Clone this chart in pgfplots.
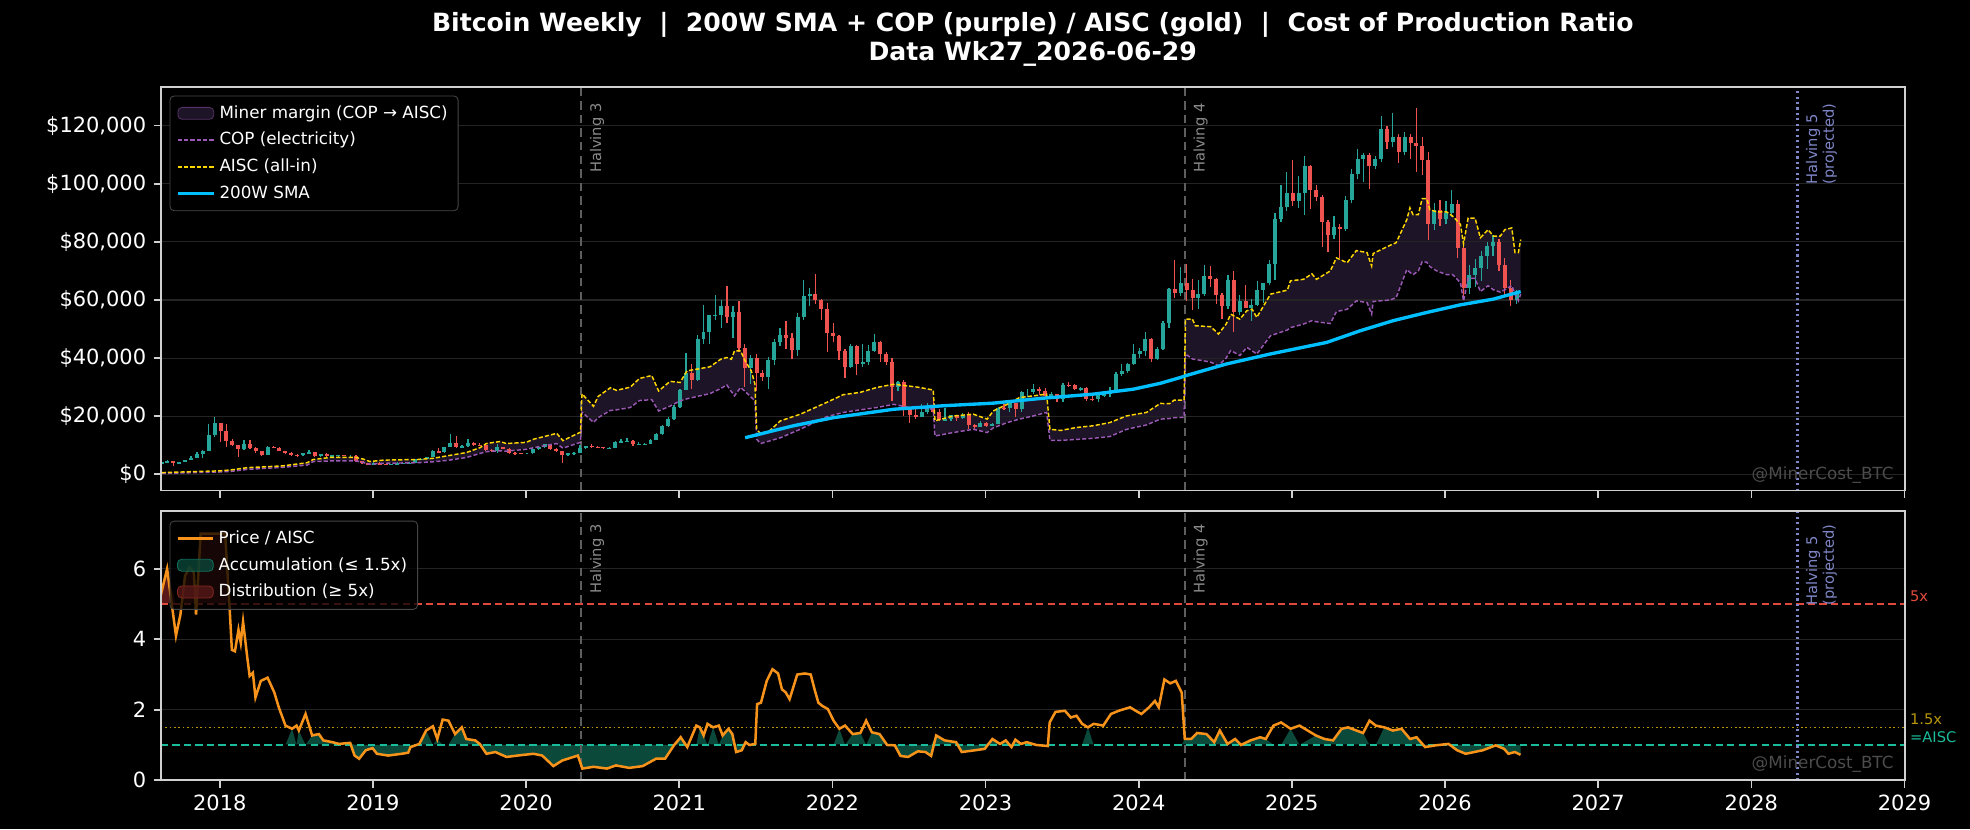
\documentclass[border=0pt]{standalone}
\usepackage{fontspec}
\setmainfont{DejaVu Sans}
\usepackage{pgfplots}
\pgfplotsset{compat=1.18}
\usepackage{pgfplotstable}

\definecolor{upc}{HTML}{26A69A}
\definecolor{dnc}{HTML}{EF5350}
\definecolor{aiscc}{HTML}{FFD700}
\definecolor{copc}{HTML}{9B59B6}
\definecolor{marginc}{HTML}{1E1427}
\definecolor{smac}{HTML}{00BFFF}
\definecolor{ratioc}{HTML}{F7931A}
\definecolor{accf}{HTML}{0B4A3B}
\definecolor{acce}{HTML}{1ABC9C}
\definecolor{distf}{HTML}{5A1818}
\definecolor{diste}{HTML}{C0392B}
\definecolor{fivel}{HTML}{E04A3C}
\definecolor{onefive}{HTML}{B8960B}
\definecolor{halv}{HTML}{5E5E5E}
\definecolor{halvt}{HTML}{8A8A8A}
\definecolor{hfive}{HTML}{8087C8}
\definecolor{gridc}{HTML}{242424}
\definecolor{spine}{HTML}{D0D0D0}

\pgfplotstableread{
x o h l c
2017.620 3.9 4.5 3.8 4.1
2017.658 4.1 4.9 4.0 4.6
2017.697 4.6 4.7 3.0 3.8
2017.735 3.8 4.4 3.6 4.2
2017.774 4.2 4.9 4.1 4.8
2017.812 4.8 6.2 4.8 5.7
2017.851 5.7 7.6 5.5 7.1
2017.889 7.1 8.3 5.6 8.2
2017.928 8.2 17.2 8.1 13.5
2017.966 13.5 19.7 13.0 17.5
2018.005 17.5 17.8 11.0 15.0
2018.043 15.0 17.2 9.4 11.3
2018.082 11.3 12.2 9.9 10.0
2018.120 10.0 10.1 6.0 8.6
2018.158 8.6 11.8 8.3 10.4
2018.197 10.4 11.7 8.6 9.1
2018.235 9.1 9.3 7.3 7.9
2018.274 7.9 8.1 6.4 6.8
2018.312 6.8 9.7 6.7 9.3
2018.351 9.3 9.9 8.9 9.2
2018.389 9.2 9.3 7.9 8.0
2018.428 8.0 8.0 7.0 7.5
2018.466 7.5 7.8 6.3 6.7
2018.505 6.7 6.9 5.8 6.6
2018.543 6.6 7.5 6.4 7.3
2018.582 7.3 8.5 7.2 7.7
2018.620 7.7 7.8 5.9 6.2
2018.658 6.2 7.1 6.0 7.0
2018.697 7.0 7.4 6.1 6.3
2018.735 6.3 6.8 6.2 6.5
2018.774 6.5 6.7 6.1 6.6
2018.812 6.6 6.7 6.3 6.4
2018.851 6.4 6.6 6.3 6.4
2018.889 6.4 6.5 4.2 4.6
2018.928 4.6 4.7 3.5 3.9
2018.966 3.9 4.0 3.2 3.5
2019.005 3.5 4.1 3.4 3.8
2019.043 3.8 4.1 3.5 3.6
2019.082 3.6 3.7 3.3 3.4
2019.120 3.4 3.7 3.4 3.6
2019.158 3.6 4.2 3.6 3.8
2019.197 3.8 3.95 3.7 3.9
2019.235 3.9 4.1 3.9 4.0
2019.274 4.0 5.4 4.0 5.2
2019.312 5.2 5.6 4.9 5.4
2019.351 5.4 5.9 5.2 5.8
2019.389 5.8 8.3 5.8 7.9
2019.428 7.9 9.0 7.5 7.7
2019.466 7.7 9.4 7.5 9.3
2019.505 9.3 13.8 9.3 10.8
2019.543 10.8 13.2 9.1 9.4
2019.582 9.4 10.2 9.1 9.6
2019.620 9.6 12.3 9.4 10.8
2019.658 10.8 11.0 9.6 10.2
2019.697 10.2 10.9 9.8 10.1
2019.735 10.1 10.3 7.9 8.5
2019.774 8.5 8.6 7.7 8.2
2019.812 8.2 10.3 7.4 9.3
2019.851 9.3 9.4 8.7 8.8
2019.889 8.8 8.9 7.0 7.4
2019.928 7.4 7.8 6.5 7.3
2019.966 7.3 7.5 6.9 7.2
2020.005 7.2 7.5 6.9 7.2
2020.043 7.2 9.0 7.0 8.8
2020.082 8.8 9.6 8.3 9.4
2020.120 9.4 10.5 9.2 10.3
2020.158 10.3 10.5 8.5 8.7
2020.197 8.7 9.2 7.8 7.9
2020.235 7.9 8.0 3.8 6.7
2020.274 6.7 7.4 6.2 7.2
2020.312 7.2 7.8 6.8 7.5
2020.351 7.5 10.0 7.4 8.9
2020.389 8.9 9.9 8.6 9.7
2020.428 9.7 10.4 9.2 9.5
2020.466 9.5 9.9 9.2 9.4
2020.505 9.4 9.5 8.9 9.1
2020.543 9.1 9.4 9.0 9.2
2020.582 9.2 11.4 9.2 11.0
2020.620 11.0 12.1 10.7 11.4
2020.658 11.4 12.4 11.2 11.5
2020.697 11.5 11.7 9.9 10.3
2020.735 10.3 11.1 10.2 10.5
2020.774 10.5 10.8 10.4 10.6
2020.812 10.6 12.0 10.5 11.9
2020.851 11.9 14.1 11.9 13.8
2020.889 13.8 17.0 13.7 16.7
2020.928 16.7 19.9 16.2 19.2
2020.966 19.2 23.9 18.8 23.2
2021.005 23.2 29.3 22.8 29.0
2021.043 29.0 41.9 29.0 35.0
2021.082 35.0 37.8 29.4 32.3
2021.120 32.3 48.0 32.0 46.5
2021.158 46.5 58.3 45.0 49.0
2021.197 49.0 55.0 45.0 54.8
2021.235 54.8 61.7 53.0 55.0
2021.274 55.0 60.0 50.5 58.0
2021.312 58.0 64.8 52.0 54.0
2021.351 54.0 58.0 47.0 56.0
2021.389 56.0 59.5 42.0 43.5
2021.428 43.5 45.0 30.0 36.7
2021.466 36.7 41.0 31.0 40.0
2021.505 40.0 41.3 28.8 35.0
2021.543 35.0 36.0 32.0 33.5
2021.582 33.5 40.5 29.3 39.5
2021.620 39.5 46.5 37.5 45.5
2021.658 45.5 50.5 44.0 48.0
2021.697 48.0 52.9 43.0 46.8
2021.735 46.8 48.8 39.6 42.8
2021.774 42.8 55.5 40.8 54.0
2021.812 54.0 67.0 53.0 61.5
2021.851 61.5 64.0 58.0 62.0
2021.889 62.0 69.0 58.5 60.0
2021.928 60.0 60.5 53.0 57.0
2021.966 57.0 59.0 42.0 48.5
2022.005 48.5 52.0 45.5 47.5
2022.043 47.5 47.9 39.5 42.5
2022.082 42.5 43.0 33.0 37.0
2022.120 37.0 45.0 36.5 44.0
2022.158 44.0 44.5 34.3 38.0
2022.197 38.0 45.0 37.0 38.7
2022.235 38.7 44.5 37.5 42.4
2022.274 42.4 48.2 42.0 45.5
2022.312 45.5 46.0 38.5 41.5
2022.351 41.5 42.0 37.7 38.5
2022.389 38.5 40.0 25.4 30.0
2022.428 30.0 32.0 28.7 31.8
2022.466 31.8 32.4 20.1 22.5
2022.505 22.5 23.2 17.6 20.3
2022.543 20.3 22.5 18.9 19.8
2022.582 19.8 24.2 19.7 21.3
2022.620 21.3 24.5 20.9 23.2
2022.658 23.2 25.2 20.9 21.5
2022.697 21.5 22.4 18.5 18.8
2022.735 18.8 22.8 18.2 18.9
2022.774 18.9 20.5 18.2 20.3
2022.812 20.3 20.5 18.2 19.3
2022.851 19.3 21.0 19.0 20.5
2022.889 20.5 21.4 15.6 16.9
2022.928 16.9 17.2 15.5 16.4
2022.966 16.4 18.4 16.3 17.8
2023.005 17.8 18.0 16.4 16.7
2023.043 16.7 17.5 16.5 17.4
2023.082 17.4 23.3 17.3 22.9
2023.120 22.9 24.2 22.2 22.8
2023.158 22.8 25.2 21.4 24.5
2023.197 24.5 24.7 19.6 22.4
2023.235 22.4 28.6 21.5 28.2
2023.274 28.2 29.2 26.5 28.2
2023.312 28.2 31.0 27.8 29.4
2023.351 29.4 30.0 27.2 28.6
2023.389 28.6 29.8 26.0 27.0
2023.428 27.0 28.4 26.0 27.7
2023.466 27.7 27.8 24.8 25.9
2023.505 25.9 31.4 25.0 30.7
2023.543 30.7 31.8 29.9 30.6
2023.582 30.6 31.1 29.0 29.2
2023.620 29.2 30.2 28.8 29.8
2023.658 29.8 30.0 25.2 26.0
2023.697 26.0 28.1 25.4 25.8
2023.735 25.8 27.4 24.9 27.2
2023.774 27.2 28.6 26.6 27.6
2023.812 27.6 30.0 26.6 28.5
2023.851 28.5 35.2 28.3 34.6
2023.889 34.6 37.9 34.0 35.5
2023.928 35.5 38.4 35.0 37.8
2023.966 37.8 44.7 37.6 41.5
2024.005 41.5 43.4 40.2 42.5
2024.043 42.5 48.9 40.8 46.5
2024.082 46.5 47.0 38.5 39.8
2024.120 39.8 43.8 39.5 43.0
2024.158 43.0 52.8 42.8 52.0
2024.197 52.0 64.0 50.5 63.8
2024.235 63.8 73.8 60.8 62.5
2024.274 62.5 71.5 61.5 66.0
2024.312 66.0 72.5 59.6 63.5
2024.351 63.5 67.2 56.5 60.6
2024.389 60.6 67.0 56.8 62.0
2024.428 62.0 71.9 61.5 68.4
2024.466 68.4 71.8 64.5 67.3
2024.505 67.3 67.5 58.5 61.8
2024.543 61.8 62.5 53.5 57.9
2024.582 57.9 68.5 57.0 66.8
2024.620 66.8 70.0 49.1 56.0
2024.658 56.0 61.8 55.0 59.5
2024.697 59.5 65.0 57.2 57.4
2024.735 57.4 60.5 52.6 58.2
2024.774 58.2 66.5 58.0 63.3
2024.812 63.3 66.0 58.9 66.0
2024.851 66.0 73.6 65.0 72.3
2024.889 72.3 89.9 66.8 88.0
2024.928 88.0 99.6 87.0 92.0
2024.966 92.0 104.0 90.5 96.7
2025.005 96.7 108.3 92.2 94.0
2025.043 94.0 102.7 91.5 96.9
2025.082 96.9 109.4 89.3 106.0
2025.120 106.0 106.5 91.2 98.0
2025.158 98.0 99.5 94.0 95.5
2025.197 95.5 96.0 78.2 87.0
2025.235 87.0 87.5 76.6 82.5
2025.274 82.5 88.8 81.0 85.0
2025.312 85.0 86.1 74.5 84.5
2025.351 84.5 95.7 83.9 94.5
2025.389 94.5 105.0 93.3 103.5
2025.428 103.5 111.9 101.5 108.5
2025.466 108.5 110.7 100.5 110.0
2025.505 110.0 110.5 98.2 106.0
2025.543 106.0 109.7 105.0 108.5
2025.582 108.5 123.2 107.5 119.0
2025.620 119.0 120.0 112.0 114.5
2025.658 114.5 124.5 112.5 116.0
2025.697 116.0 117.0 107.3 111.0
2025.735 111.0 117.9 110.0 116.0
2025.774 116.0 117.0 108.6 114.0
2025.812 114.0 126.2 104.0 113.0
2025.851 113.0 116.0 103.0 108.0
2025.889 108.0 111.0 80.5 86.0
2025.928 86.0 93.5 84.0 91.0
2025.966 91.0 94.5 85.5 88.0
2026.005 88.0 94.0 86.0 90.0
2026.043 90.0 98.0 88.5 93.0
2026.082 93.0 94.5 74.5 78.0
2026.120 78.0 79.0 60.0 64.0
2026.158 64.0 72.0 62.0 68.5
2026.197 68.5 74.0 64.5 71.0
2026.235 71.0 77.0 66.5 75.0
2026.274 75.0 80.0 70.5 78.5
2026.312 78.5 82.5 75.0 80.0
2026.351 80.0 81.0 70.0 72.0
2026.389 72.0 74.5 61.5 64.0
2026.428 64.0 67.0 58.0 60.0
2026.466 60.0 63.5 58.5 62.5
}\candles

\pgfplotstableread{
x a c
2017.620 0.6 0.3
2018.000 1.2 0.8
2018.070 1.5 1.0
2018.180 2.3 1.7
2018.410 2.9 2.4
2018.570 4.0 3.2
2018.610 5.1 4.4
2018.720 5.8 4.6
2018.890 5.8 4.6
2018.940 5.2 4.0
2018.980 4.4 3.5
2019.070 4.9 3.8
2019.290 5.1 4.0
2019.390 5.5 4.3
2019.500 6.5 4.9
2019.610 7.5 5.8
2019.700 9.2 7.2
2019.740 10.6 7.8
2019.830 11.3 8.1
2019.870 10.6 8.0
2020.000 11.0 8.6
2020.050 12.1 9.2
2020.200 14.1 10.6
2020.240 11.6 9.0
2020.330 13.9 10.6
2020.355 14.5 11.0
2020.365 27.7 21.4
2020.440 23.4 17.9
2020.470 26.8 19.5
2020.550 29.8 22.0
2020.590 28.9 22.2
2020.680 30.0 23.0
2020.740 33.0 25.4
2020.820 34.0 25.7
2020.865 28.7 21.8
2020.940 32.0 23.5
2021.005 31.6 25.3
2021.050 35.6 26.0
2021.200 37.0 27.8
2021.270 39.6 29.5
2021.310 40.2 30.8
2021.340 39.6 28.5
2021.360 42.5 27.0
2021.400 42.5 29.9
2021.430 39.0 28.5
2021.470 35.6 26.5
2021.494 31.0 25.3
2021.505 15.5 12.1
2021.530 14.0 10.6
2021.590 15.0 11.5
2021.660 18.4 12.6
2021.790 20.7 15.5
2021.960 24.7 19.8
2022.070 27.4 21.3
2022.180 28.2 22.2
2022.290 29.9 23.0
2022.400 31.0 24.1
2022.480 30.5 23.2
2022.570 29.9 22.8
2022.658 29.0 22.4
2022.669 18.4 13.2
2022.790 20.1 14.4
2022.920 20.7 15.5
2023.010 19.0 14.4
2023.050 21.8 16.0
2023.140 24.1 17.8
2023.220 26.4 19.0
2023.310 27.0 20.1
2023.398 27.6 21.3
2023.420 15.5 11.7
2023.490 15.1 11.7
2023.590 16.1 12.0
2023.700 16.7 12.4
2023.810 17.8 13.0
2023.920 20.1 15.5
2024.050 21.3 17.0
2024.140 24.4 19.0
2024.200 24.3 19.2
2024.230 25.5 19.5
2024.295 25.5 19.6
2024.305 53.4 41.4
2024.350 53.4 39.7
2024.370 51.1 39.5
2024.410 51.0 39.2
2024.470 50.8 38.6
2024.520 48.3 37.4
2024.570 51.7 40.0
2024.600 55.1 42.6
2024.660 53.4 40.9
2024.705 56.3 43.7
2024.740 56.8 42.5
2024.770 54.0 41.4
2024.860 62.0 47.7
2024.970 63.4 49.7
2024.990 66.6 50.5
2025.075 67.1 51.7
2025.130 69.0 52.9
2025.160 67.1 52.5
2025.250 70.0 51.9
2025.290 74.5 56.0
2025.360 72.8 56.8
2025.420 77.0 59.7
2025.490 76.3 59.1
2025.520 71.7 55.1
2025.530 76.0 59.5
2025.640 78.8 60.0
2025.680 79.7 60.8
2025.750 87.7 70.5
2025.770 91.7 69.5
2025.790 89.4 68.7
2025.825 89.4 70.0
2025.850 94.9 73.2
2025.880 94.9 73.0
2025.900 91.1 71.5
2025.945 90.3 70.0
2026.010 90.3 68.7
2026.050 88.8 68.7
2026.100 86.0 65.9
2026.120 79.3 59.7
2026.150 88.2 67.4
2026.195 88.2 67.4
2026.230 81.4 62.9
2026.280 84.2 64.9
2026.315 82.0 63.5
2026.360 82.0 62.7
2026.390 84.2 63.5
2026.435 84.8 65.0
2026.456 76.3 62.0
2026.478 76.3 59.7
2026.493 80.8 62.0
}\cost

\pgfplotstableread{
x s
2021.430 12.6
2021.744 16.7
2022.006 19.5
2022.400 22.4
2022.724 23.6
2023.050 24.5
2023.376 26.2
2023.703 27.6
2023.964 29.3
2024.139 31.3
2024.270 33.3
2024.310 34.0
2024.574 38.0
2024.857 41.4
2025.227 45.4
2025.445 49.4
2025.662 52.9
2025.880 55.7
2026.097 58.3
2026.315 60.3
2026.493 62.9
}\smatab

\pgfplotstableread{
x r
2017.612 5.2
2017.656 6.0
2017.714 4.1
2017.743 4.7
2017.773 5.8
2017.802 6.05
2017.831 5.9
2017.845 4.7
2017.875 7.0
2018.035 7.0
2018.064 4.9
2018.079 3.7
2018.099 3.66
2018.122 4.27
2018.137 3.9
2018.152 4.5
2018.181 3.43
2018.195 2.96
2018.216 3.05
2018.233 2.35
2018.268 2.82
2018.312 2.91
2018.356 2.49
2018.385 2.07
2018.429 1.55
2018.472 1.46
2018.501 1.55
2018.516 1.41
2018.560 1.88
2018.603 1.27
2018.647 1.31
2018.676 1.13
2018.735 1.08
2018.778 1.03
2018.851 1.06
2018.880 0.70
2018.910 0.61
2018.953 0.85
2018.997 0.91
2019.026 0.75
2019.099 0.70
2019.187 0.75
2019.230 0.78
2019.245 0.94
2019.303 1.03
2019.347 1.41
2019.391 1.53
2019.420 1.17
2019.455 1.72
2019.493 1.69
2019.536 1.31
2019.580 1.50
2019.609 1.17
2019.668 1.13
2019.697 1.03
2019.741 0.75
2019.799 0.80
2019.872 0.66
2019.945 0.70
2020.047 0.75
2020.105 0.70
2020.178 0.40
2020.236 0.56
2020.309 0.66
2020.338 0.70
2020.367 0.33
2020.440 0.38
2020.528 0.33
2020.586 0.42
2020.673 0.35
2020.761 0.40
2020.848 0.61
2020.907 0.61
2020.965 0.99
2021.009 1.22
2021.052 0.94
2021.111 1.55
2021.134 1.50
2021.159 1.27
2021.184 1.60
2021.221 1.50
2021.258 1.55
2021.283 1.27
2021.321 1.46
2021.346 1.31
2021.371 0.80
2021.408 0.85
2021.433 1.08
2021.458 1.00
2021.496 1.03
2021.508 2.16
2021.533 2.20
2021.571 2.82
2021.608 3.15
2021.645 3.03
2021.670 2.58
2021.695 2.49
2021.720 2.30
2021.770 3.00
2021.820 3.03
2021.858 3.00
2021.883 2.58
2021.908 2.20
2021.933 2.11
2021.970 2.02
2022.007 1.69
2022.045 1.46
2022.082 1.55
2022.132 1.31
2022.182 1.34
2022.220 1.69
2022.257 1.36
2022.307 1.31
2022.357 1.00
2022.407 0.99
2022.444 0.69
2022.494 0.66
2022.557 0.82
2022.607 0.80
2022.644 0.69
2022.677 1.27
2022.732 1.13
2022.807 1.08
2022.844 0.80
2022.931 0.85
2022.994 0.89
2023.044 1.17
2023.094 1.03
2023.131 1.13
2023.169 0.94
2023.194 1.15
2023.231 1.03
2023.268 1.08
2023.331 1.00
2023.406 0.97
2023.418 1.64
2023.456 1.94
2023.518 1.97
2023.556 1.78
2023.593 1.83
2023.630 1.60
2023.668 1.50
2023.705 1.60
2023.768 1.55
2023.818 1.88
2023.868 1.97
2023.905 2.02
2023.943 2.07
2023.980 1.97
2024.017 1.88
2024.067 2.07
2024.105 2.25
2024.130 2.07
2024.167 2.86
2024.205 2.75
2024.242 2.82
2024.280 2.49
2024.300 1.17
2024.342 1.17
2024.380 1.34
2024.442 1.31
2024.492 1.08
2024.529 1.41
2024.579 1.03
2024.629 1.17
2024.667 1.00
2024.729 1.13
2024.792 1.22
2024.829 1.17
2024.879 1.55
2024.929 1.64
2024.991 1.46
2025.049 1.55
2025.156 1.27
2025.212 1.17
2025.268 1.13
2025.324 1.46
2025.366 1.50
2025.464 1.34
2025.506 1.69
2025.547 1.55
2025.603 1.50
2025.659 1.41
2025.715 1.46
2025.771 1.17
2025.813 1.22
2025.869 0.94
2025.939 0.99
2026.022 1.03
2026.078 0.85
2026.134 0.75
2026.190 0.80
2026.246 0.85
2026.330 0.99
2026.385 0.89
2026.413 0.75
2026.455 0.80
2026.492 0.72
}\ratiotab

\pgfplotsset{
  base/.style={
    scale only axis, width=832.8pt,
    xmin=2017.615, xmax=2029,
    axis on top,
    axis line style={spine, line width=0.8pt},
    tick align=outside, major tick length=3.5pt, minor tick length=2pt,
    every tick/.style={spine, line width=0.8pt},
    tick pos=left,
    xtick={2018,2019,...,2029}, minor x tick num=3,
    tick label style={text=white, font=\fontsize{10}{12}\selectfont},
    label style={text=white, font=\fontsize{10}{12}\selectfont},
    legend cell align=left,
  },
  wickup/.style={draw=none, forget plot, error bars/.cd, y dir=both, y explicit, error mark=none,
    error bar style={draw=upc, line width=0.6pt}},
  wickdn/.style={draw=none, forget plot, error bars/.cd, y dir=both, y explicit, error mark=none,
    error bar style={draw=dnc, line width=0.6pt}},
  bodyup/.style={draw=none, forget plot, error bars/.cd, y dir=both, y explicit, error mark=none,
    error bar style={draw=upc, line width=1.9pt}},
  bodydn/.style={draw=none, forget plot, error bars/.cd, y dir=both, y explicit, error mark=none,
    error bar style={draw=dnc, line width=1.9pt}},
  gridl/.style={gridc, line width=0.55pt, forget plot},
  blackfill/.style={fill=black, draw=black, line width=0.6pt, forget plot},
}

\begin{document}
\begin{tikzpicture}
\path[fill=black, use as bounding box] (0,0) rectangle (940.8pt,396pt);

% ---------- top panel ----------
\begin{axis}[base,
  at={(76.8pt,161.7pt)}, anchor=south west, height=192.9pt,
  ymin=-5.6, ymax=133.4,
  ytick={0,20,40,60,80,100,120},
  yticklabels={{\$0},{\$20,000},{\$40,000},{\$60,000},{\$80,000},{\$100,000},{\$120,000}},
  xticklabels={},
  ylabel={BTC Price (USD)},
  every axis y label/.style={at={(axis description cs:-0.080,0.5)}, rotate=90, anchor=center},
  legend style={at={(0.005,0.978)}, anchor=north west, fill=black, draw=white!28!black,
    text=white, font=\fontsize{8}{9.5}\selectfont, rounded corners=2pt, row sep=1.2pt,
    inner xsep=3pt, inner ysep=2.5pt},
]
% miner margin: painter's fill (AISC area, then COP area in black)
\addplot[fill=marginc, draw=none, forget plot] table[x=x, y=a] {\cost} \closedcycle;
\addplot[blackfill] table[x=x, y=c] {\cost} \closedcycle;
% grid lines
\addplot[gridl] coordinates {(2017.615,0) (2029,0)};
\addplot[gridl] coordinates {(2017.615,20) (2029,20)};
\addplot[gridl] coordinates {(2017.615,40) (2029,40)};
\addplot[gridl] coordinates {(2017.615,60) (2029,60)};
\addplot[gridl] coordinates {(2017.615,80) (2029,80)};
\addplot[gridl] coordinates {(2017.615,100) (2029,100)};
\addplot[gridl] coordinates {(2017.615,120) (2029,120)};

\addplot[halv, line width=0.8pt, dash pattern=on 4pt off 2.5pt, forget plot] coordinates {(2020.36,-5.6) (2020.36,133.4)};
\addplot[halv, line width=0.8pt, dash pattern=on 4pt off 2.5pt, forget plot] coordinates {(2024.30,-5.6) (2024.30,133.4)};
\addplot[hfive, line width=1.2pt, dash pattern=on 1pt off 1.6pt, forget plot] coordinates {(2028.30,-5.6) (2028.30,133.4)};

\addplot[wickup] table[x=x, y expr={(\thisrow{h}+\thisrow{l})/2}, y error expr={\thisrow{c}>=\thisrow{o} ? (\thisrow{h}-\thisrow{l})/2 : 0}] {\candles};
\addplot[wickdn] table[x=x, y expr={(\thisrow{h}+\thisrow{l})/2}, y error expr={\thisrow{c}<\thisrow{o} ? (\thisrow{h}-\thisrow{l})/2 : 0}] {\candles};
\addplot[bodyup] table[x=x, y expr={(\thisrow{o}+\thisrow{c})/2}, y error expr={\thisrow{c}>=\thisrow{o} ? (\thisrow{c}-\thisrow{o})/2 : 0}] {\candles};
\addplot[bodydn] table[x=x, y expr={(\thisrow{o}+\thisrow{c})/2}, y error expr={\thisrow{c}<\thisrow{o} ? (\thisrow{o}-\thisrow{c})/2 : 0}] {\candles};

\addplot[copc, line width=0.7pt, dash pattern=on 2pt off 1pt, forget plot] table[x=x, y=c] {\cost};
\addplot[aiscc, line width=0.7pt, dash pattern=on 2pt off 1pt, forget plot] table[x=x, y=a] {\cost};
\addplot[smac, line width=1.6pt, forget plot] table[x=x, y=s] {\smatab};

\addlegendimage{area legend, fill=marginc, draw=copc!55!black}
\addlegendentry{Miner margin (COP → AISC)}
\addlegendimage{copc, line width=0.7pt, dash pattern=on 2pt off 1pt}
\addlegendentry{COP (electricity)}
\addlegendimage{aiscc, line width=0.7pt, dash pattern=on 2pt off 1pt}
\addlegendentry{AISC (all-in)}
\addlegendimage{smac, line width=1.6pt}
\addlegendentry{200W SMA}

\node[rotate=90, anchor=north east, inner sep=1pt, text=halvt, font=\fontsize{7}{8}\selectfont] at (axis cs:2020.40,128.5) {Halving 3};
\node[rotate=90, anchor=north east, inner sep=1pt, text=halvt, font=\fontsize{7}{8}\selectfont] at (axis cs:2024.34,128.5) {Halving 4};
\node[rotate=90, anchor=north east, inner sep=1pt, align=left, text=hfive, font=\fontsize{7}{8}\selectfont] at (axis cs:2028.34,128.5) {Halving 5\\(projected)};
\node[anchor=south east, inner sep=1pt, text=white!30!black, font=\fontsize{8}{9}\selectfont] at (rel axis cs:0.995,0.012) {@MinerCost\_BTC};
\end{axis}

% ---------- bottom panel ----------
\begin{axis}[base,
  at={(76.8pt,23.4pt)}, anchor=south west, height=128.7pt,
  ymin=0, ymax=7.65,
  ytick={0,2,4,6}, yticklabels={0,2,4,6},
  xticklabels={2018,2019,2020,2021,2022,2023,2024,2025,2026,2027,2028,2029},
  ylabel={Price / AISC (x)},
  every axis y label/.style={at={(axis description cs:-0.031,0.5)}, rotate=90, anchor=center},
  legend style={at={(0.005,0.963)}, anchor=north west, fill=black, fill opacity=0.75, text opacity=1, draw=white!28!black,
    text=white, font=\fontsize{8}{9.5}\selectfont, rounded corners=2pt, row sep=1.2pt,
    inner xsep=3pt, inner ysep=2.5pt},
]
% distribution: area under max(r,5) minus area under 5
\addplot[fill=distf, draw=none, forget plot] table[x=x, y expr={\thisrow{r}>=5 ? \thisrow{r} : 5}] {\ratiotab} \closedcycle;
\addplot[blackfill] coordinates {(2017.612,5) (2026.492,5)} \closedcycle;
% accumulation: area under max(m,1) minus area under min(m,1), m = r if r<=1.5 else 1
\addplot[fill=accf, draw=none, forget plot] table[x=x, y expr={\thisrow{r}<=1.5 ? max(\thisrow{r},1) : 1}] {\ratiotab} \closedcycle;
\addplot[blackfill] table[x=x, y expr={\thisrow{r}<=1.5 ? min(\thisrow{r},1) : 1}] {\ratiotab} \closedcycle;

\addplot[gridl] coordinates {(2017.615,2) (2029,2)};
\addplot[gridl] coordinates {(2017.615,4) (2029,4)};
\addplot[gridl] coordinates {(2017.615,6) (2029,6)};

\addplot[fivel, line width=0.9pt, dash pattern=on 3.5pt off 2pt, forget plot] coordinates {(2017.615,5) (2029,5)};
\addplot[onefive, line width=0.7pt, dash pattern=on 0.8pt off 1.3pt, forget plot] coordinates {(2017.615,1.5) (2029,1.5)};
\addplot[acce, line width=0.9pt, dash pattern=on 3.5pt off 2pt, forget plot] coordinates {(2017.615,1) (2029,1)};

\addplot[halv, line width=0.8pt, dash pattern=on 4pt off 2.5pt, forget plot] coordinates {(2020.36,0) (2020.36,7.65)};
\addplot[halv, line width=0.8pt, dash pattern=on 4pt off 2.5pt, forget plot] coordinates {(2024.30,0) (2024.30,7.65)};
\addplot[hfive, line width=1.2pt, dash pattern=on 1pt off 1.6pt, forget plot] coordinates {(2028.30,0) (2028.30,7.65)};

\addplot[ratioc, line width=1.2pt, forget plot] table[x=x, y=r] {\ratiotab};

\addlegendimage{ratioc, line width=1.2pt}
\addlegendentry{Price / AISC}
\addlegendimage{area legend, fill=accf, draw=acce!60!black}
\addlegendentry{Accumulation (≤ 1.5x)}
\addlegendimage{area legend, fill=distf, draw=diste!70!black}
\addlegendentry{Distribution (≥ 5x)}

\node[rotate=90, anchor=north east, inner sep=1pt, text=halvt, font=\fontsize{7}{8}\selectfont] at (axis cs:2020.40,7.33) {Halving 3};
\node[rotate=90, anchor=north east, inner sep=1pt, text=halvt, font=\fontsize{7}{8}\selectfont] at (axis cs:2024.34,7.33) {Halving 4};
\node[rotate=90, anchor=north east, inner sep=1pt, align=left, text=hfive, font=\fontsize{7}{8}\selectfont] at (axis cs:2028.34,7.33) {Halving 5\\(projected)};
\node[anchor=south east, inner sep=1pt, text=white!30!black, font=\fontsize{8}{9}\selectfont] at (rel axis cs:0.995,0.018) {@MinerCost\_BTC};

\coordinate (L5) at (axis cs:2029,5);
\coordinate (L15) at (axis cs:2029,1.5);
\coordinate (L1) at (axis cs:2029,1.0);
\end{axis}

\node[anchor=south west, inner sep=1pt, xshift=1.4pt, text=fivel, font=\fontsize{7}{8}\selectfont] at (L5) {5x};
\node[anchor=south west, inner sep=1pt, xshift=1.4pt, text=onefive, font=\fontsize{7}{8}\selectfont] at (L15) {1.5x};
\node[anchor=south west, inner sep=1pt, xshift=1.4pt, text=acce, font=\fontsize{7}{8}\selectfont] at (L1) {=AISC};

\node[text=white, font=\bfseries\fontsize{12}{14}\selectfont] at (493.2pt,384pt) {Bitcoin Weekly\ \ |\ \ 200W SMA + COP (purple) / AISC (gold)\ \ |\ \ Cost of Production Ratio};
\node[text=white, font=\bfseries\fontsize{12}{14}\selectfont] at (493.2pt,370.2pt) {Data Wk27\_2026-06-29};
\end{tikzpicture}
\end{document}
